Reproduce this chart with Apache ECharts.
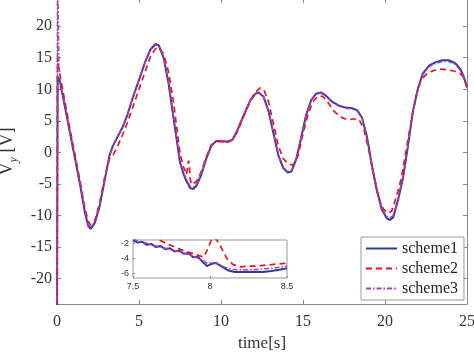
<!DOCTYPE html>
<html>
<head>
<meta charset="utf-8">
<script src="https://cdn.jsdelivr.net/npm/echarts@6/dist/echarts.min.js"></script>
<style>html,body{margin:0;padding:0;background:#fff;}#c{width:474px;height:353px;}</style>
</head>
<body>
<div id="c"></div>
<script>
// ---- main plot data ----
var time1 = [0,0.04,0.2,0.5,0.8,1.1,1.4,1.7,1.9,2.05,2.3,2.6,2.9,3.2,3.4,3.7,4.0,4.3,4.6,5.0,5.4,5.7,6.0,6.2,6.5,6.8,7.1,7.3,7.5,7.7,7.9,8.0,8.1,8.3,8.5,8.8,9.1,9.4,9.7,10.0,10.4,10.7,11.0,11.4,11.8,12.1,12.3,12.6,12.9,13.2,13.5,13.8,14.1,14.3,14.6,14.9,15.2,15.5,15.8,16.1,16.4,16.8,17.2,17.6,18.0,18.3,18.6,18.9,19.2,19.5,19.8,20.1,20.3,20.5,20.8,21.1,21.4,21.7,22.0,22.3,22.7,23.1,23.5,23.9,24.3,24.6,24.8,25.0];
var scheme1 = [-30,12,11,7.0,3.0,-1.0,-5.0,-9.5,-11.6,-12.1,-11.2,-8.5,-4.5,-0.5,1.0,2.5,4.0,6.0,8.5,11.5,14.5,16.3,17.2,17.0,15.0,11.0,5.5,2.0,-1.6,-3.3,-4.6,-5.0,-5.6,-5.8,-5.3,-3.5,-1.0,1.0,1.8,1.8,1.7,2.0,3.5,6.0,8.3,9.3,9.5,8.8,6.5,3.0,-0.5,-2.5,-3.2,-3.0,-1.0,2.5,6.0,8.3,9.3,9.5,9.0,8.0,7.4,7.1,7.0,6.7,5.5,2.5,-2.0,-6.0,-9.0,-10.4,-10.7,-10.3,-7.5,-4.0,1.0,6.5,10.0,12.5,13.8,14.3,14.6,14.6,14.1,13.2,12.0,10.3];

var time2 = [0,0.03,0.12,0.25,0.5,0.8,1.1,1.4,1.7,1.9,2.05,2.3,2.6,2.9,3.2,3.4,3.7,4.0,4.3,4.6,5.0,5.4,5.7,6.0,6.2,6.5,6.8,7.1,7.3,7.5,7.7,7.9,7.97,8.02,8.06,8.12,8.2,8.3,8.5,8.8,9.1,9.4,9.7,10.0,10.4,10.7,11.0,11.4,11.8,12.1,12.4,12.6,12.9,13.2,13.5,13.8,14.1,14.4,14.7,15.0,15.3,15.6,15.9,16.2,16.5,16.9,17.3,17.7,18.1,18.4,18.7,19.0,19.3,19.6,19.9,20.2,20.4,20.7,21.0,21.3,21.6,21.9,22.2,22.6,23.0,23.4,23.8,24.2,24.6,24.8,25.0];
var scheme2 = [-30,15,13,11.3,7.8,3.6,-0.4,-4.4,-8.8,-10.9,-11.5,-10.8,-8.0,-4.0,-1.0,-0.5,1.0,2.8,4.8,7.0,10.0,13.0,15.2,16.4,16.6,15.6,12.8,8.0,4.0,-0.2,-2.2,-3.5,-3.8,-1.3,-1.8,-4.2,-5.1,-5.0,-4.6,-3.0,-0.7,1.2,1.7,1.7,1.6,2.0,3.3,5.8,8.3,9.6,10.2,10.0,8.0,4.5,1.0,-1.0,-1.8,-2.0,-0.5,3.0,6.0,8.0,8.9,8.9,8.0,6.5,5.6,5.2,5.3,5.3,3.8,0.5,-3.5,-7.0,-9.0,-9.6,-9.3,-7.0,-4.0,0.5,5.0,9.0,11.5,12.6,13.0,13.2,13.1,12.9,12.5,11.8,10.5];

var time3 = [0,0.03,0.12,0.2,0.5,0.8,1.1,1.4,1.7,1.9,2.05,2.3,2.6,2.9,3.2,3.4,3.7,4.0,4.3,4.6,5.0,5.4,5.7,6.0,6.2,6.5,6.8,7.1,7.3,7.5,7.7,7.9,8.0,8.1,8.3,8.5,8.8,9.1,9.4,9.7,10.0,10.4,10.7,11.0,11.4,11.8,12.1,12.3,12.6,12.9,13.2,13.5,13.8,14.1,14.3,14.6,14.9,15.2,15.5,15.8,16.1,16.4,16.8,17.2,17.6,18.0,18.3,18.6,18.9,19.2,19.5,19.8,20.1,20.3,20.5,20.8,21.1,21.4,21.7,22.0,22.3,22.7,23.1,23.5,23.9,24.3,24.6,24.8,25.0];
var scheme3 = [-30,30,14,11.2,7.2,3.2,-0.8,-4.8,-9.3,-11.4,-11.9,-11.0,-8.3,-4.3,-0.4,1.1,2.6,4.1,6.0,8.5,11.5,14.5,16.3,17.0,16.9,15.0,11.2,5.8,2.2,-1.5,-3.1,-4.3,-4.7,-5.3,-5.5,-5.0,-3.3,-0.8,1.1,1.9,1.9,1.8,2.1,3.6,6.0,8.3,9.3,9.5,8.8,6.5,3.1,-0.4,-2.4,-3.0,-2.8,-0.8,2.6,6.1,8.3,9.2,9.4,8.9,7.9,7.3,7.0,6.9,6.6,5.4,2.4,-2.0,-5.8,-8.8,-10.1,-10.4,-10.0,-7.3,-3.8,1.1,6.4,9.8,12.3,13.6,14.1,14.4,14.4,13.9,13.0,11.9,10.2];

// ---- inset (zoom 7.5 - 8.5 s) data ----
var insetTime1 = [7.5,7.53,7.56,7.59,7.62,7.65,7.68,7.71,7.74,7.77,7.8,7.83,7.86,7.89,7.92,7.95,7.98,8.01,8.04,8.08,8.12,8.16,8.22,8.28,8.34,8.4,8.45,8.5];
var insetScheme1 = [-1.55,-1.85,-1.75,-2.15,-2.05,-2.45,-2.3,-2.75,-2.6,-3.05,-2.9,-3.35,-3.25,-3.8,-3.7,-4.4,-5.0,-4.7,-4.6,-5.1,-5.6,-5.8,-5.8,-5.75,-5.8,-5.65,-5.5,-5.3];
var insetTime2 = [7.5,7.6,7.67,7.73,7.79,7.84,7.9,7.96,7.99,8.01,8.03,8.05,8.08,8.11,8.15,8.2,8.25,8.3,8.35,8.4,8.45,8.5];
var insetScheme2 = [0.3,-0.8,-1.5,-2.1,-2.6,-3.0,-3.4,-3.8,-2.5,-1.4,-1.2,-1.7,-2.8,-4.0,-4.8,-5.1,-5.0,-5.0,-4.9,-4.8,-4.7,-4.6];
var insetTime3 = [7.5,7.55,7.6,7.65,7.7,7.75,7.8,7.85,7.9,7.95,7.98,8.02,8.05,8.1,8.15,8.2,8.3,8.4,8.5];
var insetScheme3 = [-1.4,-1.7,-2.0,-2.3,-2.55,-2.85,-3.1,-3.4,-3.75,-4.2,-4.6,-4.5,-4.7,-5.2,-5.45,-5.5,-5.45,-5.3,-5.0];

// ---- ticks / labels ----
var seriesNames = ['scheme1','scheme2','scheme3'];
var yTicks = [-20,-15,-10,-5,0,5,10,15,20];
var insetYTicks = [-6,-4,-2];

function pairs(t, v) { return t.map(function (x, i) { return [x, v[i]]; }); }

var C1 = '#2E3C9E', C2 = '#E8151E', C3 = '#B03CB0';
var AX = '#8a8a8a';
var SERIF = 'Liberation Serif, Times New Roman, serif';
var SANS = 'Liberation Sans, Arial, sans-serif';

var chart = echarts.init(document.getElementById('c'), null, {renderer: 'canvas'});

var style1 = {color: C1, width: 2, type: 'solid'};
var style2 = {color: C2, width: 1.7, type: [6, 4]};
var style3 = {color: C3, width: 1.5, type: [5, 2, 1.5, 2]};

function mk(name, data, style, xi, yi, z) {
  return {
    name: name, type: 'line', data: data, xAxisIndex: xi, yAxisIndex: yi,
    symbol: 'none', lineStyle: style, itemStyle: {color: style.color},
    z: z, clip: true, animation: false
  };
}

chart.setOption({
  animation: false,
  backgroundColor: '#fff',
  grid: [
    {left: 57, right: 7, top: -1, bottom: 49, containLabel: false, outerBoundsMode: 'none'},
    {left: 133, width: 154, top: 240, height: 38, show: true, backgroundColor: '#fff',
     borderColor: '#999', borderWidth: 1, z: 10, containLabel: false, outerBoundsMode: 'none'}
  ],
  xAxis: [
    {type: 'value', gridIndex: 0, min: 0, max: 25, interval: 5, position: 'bottom',
     axisLine: {show: true, onZero: false, lineStyle: {color: AX}},
     axisTick: {show: true, inside: true, length: 4, lineStyle: {color: AX}},
     axisLabel: {color: '#333', fontFamily: SERIF, fontSize: 16, margin: 10},
     splitLine: {show: false},
     name: 'time[s]', nameLocation: 'middle', nameGap: 30,
     nameTextStyle: {color: '#333', fontFamily: SERIF, fontSize: 17}},
    {type: 'value', gridIndex: 0, min: 0, max: 25, interval: 5, position: 'top',
     axisLine: {show: true, onZero: false, lineStyle: {color: AX}},
     axisTick: {show: true, inside: true, length: 4, lineStyle: {color: AX}},
     axisLabel: {show: false}, splitLine: {show: false}},
    {type: 'value', gridIndex: 1, min: 7.5, max: 8.5, interval: 0.5,
     axisLine: {show: false, onZero: false},
     axisTick: {show: true, inside: true, length: 2, lineStyle: {color: AX}},
     axisLabel: {color: '#333', fontFamily: SANS, fontSize: 9, margin: 4},
     splitLine: {show: false}, z: 11}
  ],
  yAxis: [
    {type: 'value', gridIndex: 0, min: -24, max: 24.3, position: 'left',
     axisLine: {show: true, onZero: false, lineStyle: {color: AX}},
     axisTick: {show: true, inside: true, length: 4, customValues: yTicks, lineStyle: {color: AX}},
     axisLabel: {color: '#333', fontFamily: SERIF, fontSize: 16, margin: 5, customValues: yTicks},
     splitLine: {show: false},
     name: '{v|V}{s|y}{v| [V]}', nameLocation: 'middle', nameRotate: 90, nameGap: 32,
     nameTextStyle: {rich: {
       v: {fontFamily: SERIF, fontSize: 18, color: '#333', verticalAlign: 'top', lineHeight: 22},
       s: {fontFamily: SERIF, fontSize: 12, fontStyle: 'italic', color: '#333', verticalAlign: 'bottom', lineHeight: 12}
     }}},
    {type: 'value', gridIndex: 0, min: -24, max: 24.3, position: 'right',
     axisLine: {show: true, onZero: false, lineStyle: {color: AX}},
     axisTick: {show: true, inside: true, length: 4, customValues: yTicks, lineStyle: {color: AX}},
     axisLabel: {show: false}, splitLine: {show: false}},
    {type: 'value', gridIndex: 1, min: -6.6, max: -1.5,
     axisLine: {show: false, onZero: false},
     axisTick: {show: true, inside: true, length: 2, customValues: insetYTicks, lineStyle: {color: AX}},
     axisLabel: {color: '#333', fontFamily: SANS, fontSize: 9, margin: 4, customValues: insetYTicks},
     splitLine: {show: false}, z: 11}
  ],
  legend: {
    data: seriesNames, orient: 'vertical', left: 361, top: 237,
    itemWidth: 31, itemHeight: 14, itemGap: 3,
    padding: [3, 6, 3, 4],
    backgroundColor: '#fff', borderColor: '#999', borderWidth: 1, borderRadius: 0,
    itemStyle: {opacity: 0},
    textStyle: {color: '#222', fontFamily: SERIF, fontSize: 16, lineHeight: 17},
    z: 20
  },
  series: [
    mk(seriesNames[0], pairs(time1, scheme1), style1, 0, 0, 2),
    mk(seriesNames[1], pairs(time2, scheme2), style2, 0, 0, 3),
    mk(seriesNames[2], pairs(time3, scheme3), style3, 0, 0, 4),
    mk(seriesNames[0], pairs(insetTime1, insetScheme1), style1, 2, 2, 12),
    mk(seriesNames[1], pairs(insetTime2, insetScheme2), style2, 2, 2, 13),
    mk(seriesNames[2], pairs(insetTime3, insetScheme3), style3, 2, 2, 14)
  ]
});
</script>
</body>
</html>
